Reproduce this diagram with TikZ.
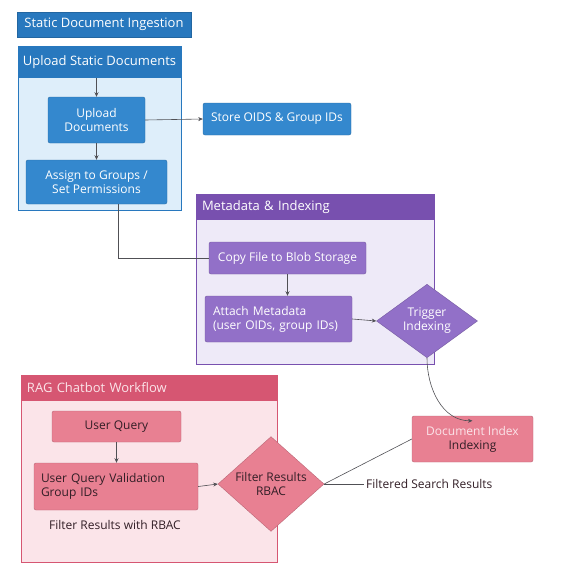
\documentclass[tikz,border=0pt]{standalone}
\usepackage{fontspec}
\setmainfont{Open Sans}
\usetikzlibrary{arrows.meta,positioning,shapes.geometric}

\definecolor{bluedark}{RGB}{40,120,190}
\definecolor{bluebox}{RGB}{52,136,206}
\definecolor{bluelight}{RGB}{222,238,250}
\definecolor{purpledark}{RGB}{120,80,175}
\definecolor{purplebox}{RGB}{146,112,200}
\definecolor{purplelight}{RGB}{238,234,248}
\definecolor{pinkdark}{RGB}{214,86,114}
\definecolor{pinkbox}{RGB}{232,128,146}
\definecolor{pinklight}{RGB}{251,228,233}
\definecolor{inkdark}{RGB}{50,30,38}
\definecolor{wire}{RGB}{80,80,85}

\begin{document}
\begin{tikzpicture}[
  x=1pt, y=-1pt,
  font=\fontsize{12}{14}\selectfont,
  panel/.style={draw=#1, line width=0.8pt, inner sep=0pt},
  header/.style={fill=#1, text=white, inner sep=0pt, anchor=center,
                 font=\fontsize{13}{15}\selectfont},
  blk/.style={draw=#1!80!black, fill=#1, rounded corners=2pt, inner sep=2pt, align=center},
  dmd/.style={diamond, draw=#1!80!black, fill=#1, inner sep=0pt, align=center},
  flow/.style={-{Stealth[length=1.6mm,width=1.4mm]}, wire, line width=0.6pt},
  link/.style={wire, line width=0.6pt}
]
\useasboundingbox (0,0) rectangle (575,576);

% static document ingestion
\node[header=bluedark, minimum width=174pt, minimum height=25pt, draw=bluedark!85!black] (title) at (104,24.5) {Static Document Ingestion};
\node[panel=bluedark, fill=bluelight, minimum width=163pt, minimum height=164pt] (bluepanel) at (99.5,128) {};
\node[header=bluedark, minimum width=163pt, minimum height=32pt] (bluehead) at (99.5,62) {Upload Static Documents};
\node[blk=bluebox, text=white, minimum width=97pt, minimum height=46pt] (upload) at (96.5,120) {Upload\\Documents};
\node[blk=bluebox, text=white, minimum width=141pt, minimum height=44pt] (assign) at (96.5,182) {Assign to Groups /\\Set Permissions};
\node[blk=bluebox, text=white, minimum width=148pt, minimum height=32pt] (store) at (277,119) {Store OIDS \& Group IDs};

% metadata and indexing
\node[panel=purpledark, fill=purplelight, minimum width=238pt, minimum height=170pt] (purplepanel) at (315,279) {};
\node[header=purpledark, minimum width=238pt, minimum height=26pt, text width=226pt, align=left] (purplehead) at (315,207) {Metadata \& Indexing};
\node[blk=purplebox, text=white, minimum width=157pt, minimum height=32pt] (copy) at (287.5,258) {Copy File to Blob Storage};
\node[blk=purplebox, text=white, minimum height=46pt, text width=131pt, inner xsep=8pt, align=left] (attach) at (278.5,319) {Attach Metadata\\(user OIDs, group IDs)};
\node[dmd=purplebox, text=white, minimum width=101pt, minimum height=66pt] (trigger) at (427,321) {Trigger\\Indexing};

% rag chatbot workflow
\node[panel=pinkdark, fill=pinklight, minimum width=256pt, minimum height=187pt] (pinkpanel) at (149,469) {};
\node[header=pinkdark, minimum width=256pt, minimum height=26pt, text width=244pt, align=left, text=pinklight] (pinkhead) at (149,388) {RAG Chatbot Workflow};
\node[blk=pinkbox, text=inkdark, minimum width=129pt, minimum height=31pt] (query) at (116.5,426.5) {User Query};
\node[blk=pinkbox, text=inkdark, minimum height=47pt, text width=150pt, inner xsep=7pt, align=left] (validate) at (116,486.5) {User Query Validation\\Group IDs};
\node[text=inkdark] (rbacnote) at (115,525) {Filter Results with RBAC};
\node[dmd=pinkbox, text=inkdark, minimum width=106pt, minimum height=68pt] (filter) at (271,484) {Filter Results\\RBAC};

\node[blk=pinkbox, minimum width=121pt, minimum height=46pt] (docindex) at (472.5,439) {\textcolor{pinklight}{Document Index}\\\textcolor{inkdark}{Indexing}};
\node[anchor=west, text=inkdark, inner sep=2pt] (results) at (364,484) {Filtered Search Results};
\coordinate (idxin) at ([yshift=-5pt]docindex.north);

% connectors
\draw[flow] (upload.north |- bluehead.south) -- (upload.north);
\draw[flow] (upload.south) -- (assign.north);
\draw[flow] (upload.east) -- (store.west);
\draw[link] ([xshift=22pt]assign.south) |- (copy.west);
\draw[flow] (copy.south |- copy.south) -- (copy.south |- attach.north);
\draw[flow] (attach.east) -- (trigger.west);
\draw[flow] (trigger.south) to[out=-90, in=180] (idxin);
\draw[link] (docindex.west) -- (filter.east);
\draw[link] (filter.east) -- (results.west);
\draw[flow] (query.south) -- (query.south |- validate.north);
\draw[flow] (validate.east) -- (filter.west);
\end{tikzpicture}
\end{document}
